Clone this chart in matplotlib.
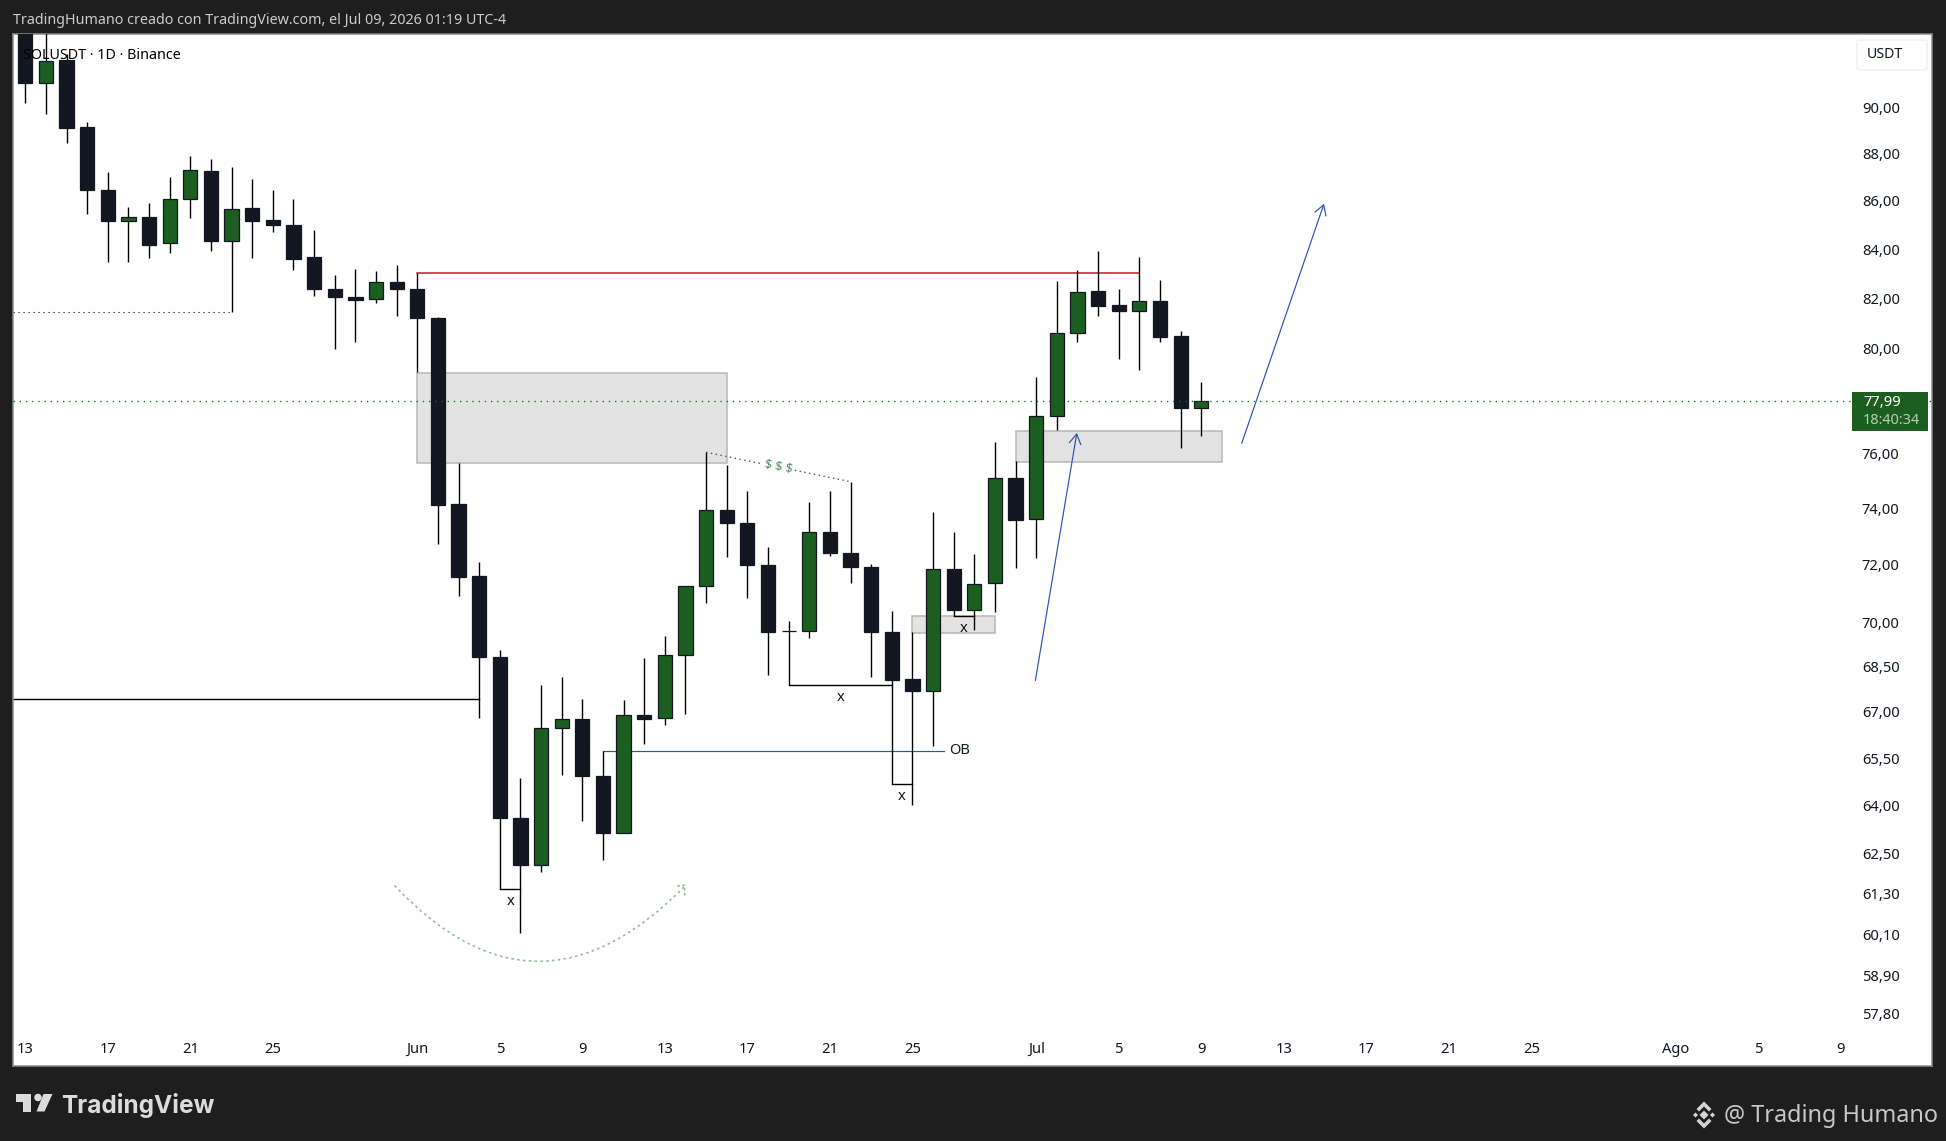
import matplotlib
matplotlib.use('Agg')
import matplotlib.pyplot as plt
from matplotlib.patches import Rectangle, Polygon, Ellipse, FancyBboxPatch, PathPatch
from matplotlib.path import Path
from matplotlib.ticker import FixedLocator, FixedFormatter, NullLocator

W, H = 1946, 1141

# Daily candles, index 0 = May 13
opens = [95.00, 91.08, 92.12, 89.17, 86.47, 85.14, 85.34, 84.23, 86.06, 87.28,
         84.32, 85.71, 85.21, 85.01, 83.68, 82.39, 82.06, 81.96, 82.67, 82.39,
         81.23, 74.17, 71.58, 68.82, 63.62, 62.16, 66.47, 66.77, 64.94, 63.15,
         66.90, 66.78, 68.88, 71.25, 73.95, 73.49, 71.99, 69.71, 69.70, 73.16,
         72.42, 71.92, 69.67, 68.09, 67.68, 71.85, 70.43, 71.34, 75.12, 73.60,
         77.40, 80.61, 82.31, 81.74, 81.51, 81.90, 80.51, 77.73]
highs = [97.00, 97.00, 92.40, 89.39, 87.24, 85.75, 85.92, 87.02, 87.92, 87.79,
         87.45, 86.94, 86.47, 86.09, 84.80, 82.95, 83.20, 83.11, 83.36, 83.03,
         81.25, 75.67, 72.07, 69.06, 64.85, 67.89, 68.13, 67.43, 65.73, 67.40,
         68.79, 69.54, 71.25, 76.06, 75.59, 74.64, 72.63, 70.05, 74.24, 74.64,
         74.97, 72.03, 70.39, 69.65, 73.88, 73.16, 72.38, 76.45, 75.74, 78.92,
         82.71, 83.16, 83.93, 82.39, 83.68, 82.75, 80.71, 78.73]
lows = [90.23, 89.75, 88.49, 85.47, 83.45, 83.45, 83.65, 83.82, 85.27, 83.94,
        81.45, 83.65, 84.69, 83.13, 82.08, 79.98, 80.27, 81.83, 81.28, 79.09,
        72.71, 70.89, 66.78, 61.44, 60.12, 61.95, 64.95, 63.51, 62.31, 63.15,
        65.94, 66.56, 66.91, 70.64, 72.25, 70.82, 68.20, 67.88, 69.45, 72.29,
        71.34, 68.14, 64.68, 64.00, 65.88, 70.21, 69.72, 70.33, 71.87, 72.22,
        76.88, 80.25, 81.30, 79.61, 79.19, 80.25, 76.23, 76.67]
closes = [91.08, 92.10, 89.14, 86.44, 85.14, 85.34, 84.18, 86.08, 87.31, 84.32,
          85.66, 85.18, 84.98, 83.61, 82.36, 82.04, 81.94, 82.66, 82.36, 81.20,
          74.14, 71.55, 68.80, 63.60, 62.16, 66.47, 66.76, 64.92, 63.14, 66.89,
          66.75, 68.88, 71.25, 73.94, 73.46, 71.97, 69.65, 69.68, 73.15, 72.39,
          71.90, 69.65, 68.03, 67.67, 71.84, 70.42, 71.32, 75.11, 73.59, 77.42,
          80.63, 82.25, 81.70, 81.50, 81.90, 80.48, 77.73, 77.99]

price_ticks = [90, 88, 86, 84, 82, 80, 76, 74, 72, 70, 68.5, 67, 65.5, 64, 62.5, 61.3, 60.1, 58.9, 57.8]
price_labels = ['90,00', '88,00', '86,00', '84,00', '82,00', '80,00', '76,00', '74,00', '72,00', '70,00',
                '68,50', '67,00', '65,50', '64,00', '62,50', '61,30', '60,10', '58,90', '57,80']
date_ticks = [0, 4, 8, 12, 19, 23, 27, 31, 35, 39, 43, 49, 53, 57, 61, 65, 69, 73, 80, 84, 88]
date_labels = ['13', '17', '21', '25', 'Jun', '5', '9', '13', '17', '21', '25',
               'Jul', '5', '9', '13', '17', '21', '25', 'Ago', '5', '9']
bold_labels = ['Jun', 'Jul', 'Ago']

last_price = 77.99
resistance = 83.03
old_low_dotted = 81.45
old_low_solid = 67.42
order_block = 65.73

# (first day, last day, top price, bottom price)
zones = [(19, 34, 79.07, 75.65), (48, 58, 76.86, 75.70), (43, 47, 70.21, 69.62)]
# (first day, last day, price)
sweeps = [(23, 24, 61.44), (37, 42, 67.88), (42, 43, 64.68), (45, 46, 70.21)]
# (day, price) of the small x marks
x_marks = [(23.5, 61.06), (39.5, 67.46), (42.5, 64.28), (45.5, 69.78)]

DARK = '#131722'
GREEN = '#1b5e20'
BLUE = '#2a52b8'
UI = 'Noto Sans'


def fx(x):
    return x / W


def fy(y):
    return 1 - y / H


def main():
    plt.rcParams['font.family'] = [UI, 'DejaVu Sans']
    fig = plt.figure(figsize=(W / 100, H / 100), dpi=100, facecolor='#1e1e1e')
    ax = fig.add_axes([fx(13), fy(1065.5), (1932 - 13) / W, (1065.5 - 34) / H], facecolor='white')
    ax.set_yscale('log')
    ax.set_xlim(-0.596, 92.42)
    ax.set_ylim(56.36, 93.31)
    for spine in ax.spines.values():
        spine.set_color('#8a8a8a')
        spine.set_linewidth(1.1)

    # Axes, labels sit inside the pane like on TradingView
    ax.yaxis.tick_right()
    ax.yaxis.set_major_locator(FixedLocator(price_ticks))
    ax.yaxis.set_major_formatter(FixedFormatter(price_labels))
    ax.yaxis.set_minor_locator(NullLocator())
    ax.xaxis.set_major_locator(FixedLocator(date_ticks))
    ax.xaxis.set_major_formatter(FixedFormatter(date_labels))
    ax.tick_params(axis='y', length=0, pad=-50.5, labelsize=10.6, labelcolor=DARK)
    ax.tick_params(axis='x', length=0, pad=-17, labelsize=10.6, labelcolor=DARK)
    for lab in ax.get_xticklabels():
        if lab.get_text() in bold_labels:
            lab.set_fontweight('bold')

    # Zones go under the candles
    for first, last, top, bottom in zones:
        ax.add_patch(Rectangle((first, bottom), last - first, top - bottom, facecolor='#e3e3e3',
                               edgecolor='#b8b8b8', linewidth=1.1, zorder=1))

    # Candles
    days = list(range(len(opens)))
    ax.vlines(days, lows, highs, color='black', linewidth=1.0, zorder=3)
    for day, o, c in zip(days, opens, closes):
        ax.bar(day, abs(c - o), bottom=min(o, c), width=0.69, color=GREEN if c > o else DARK,
               edgecolor=DARK, linewidth=0.9, zorder=4)

    # Levels
    ax.plot([-0.6, 92.4], [last_price, last_price], color='#0f6a1a', linewidth=0.95,
            linestyle=(0, (1, 3.7)), zorder=5)
    ax.plot([19, 54], [resistance, resistance], color='#c2182b', linewidth=1.1, zorder=2)
    ax.plot([-0.6, 10], [old_low_dotted, old_low_dotted], color='black', linewidth=0.8,
            linestyle=(0, (1, 3.5)), zorder=2)
    ax.plot([-0.6, 22], [old_low_solid, old_low_solid], color='black', linewidth=1.0, zorder=2)
    ax.plot([28, 44.55], [order_block, order_block], color=BLUE, linewidth=0.85, zorder=2)
    ax.text(45.3, order_block, 'OB', fontsize=10.6, color=DARK, ha='center', va='center')

    for first, last, price in sweeps:
        ax.plot([first, last], [price, price], color='black', linewidth=1.0, zorder=3)
    for day, price in x_marks:
        ax.text(day, price, 'x', fontsize=10.6, color=DARK, ha='center', va='center', zorder=6)

    # Equal highs with the $ $ $ tag
    ax.plot([33, 35.7], [highs[33], 75.63], color='#555555', linewidth=1.0, linestyle=(0, (1, 2.5)), zorder=5)
    ax.plot([37.3, 40], [75.39, highs[40]], color='#555555', linewidth=1.0, linestyle=(0, (1, 2.5)), zorder=5)
    ax.text(36.5, 75.52, '$ $ $', fontsize=9, color='#4f8a5c', rotation=-11, ha='center', va='center')

    # Rounded bottom curve
    curve = Path([(17.9, 61.54), (24.8, 57.15), (32.0, 61.54)], [Path.MOVETO, Path.CURVE3, Path.CURVE3])
    ax.add_patch(PathPatch(curve, facecolor='none', edgecolor='#8fbf95', linewidth=1.2,
                           linestyle=(0, (1.5, 2)), zorder=2))
    ax.plot([31.6, 31.95, 31.97], [61.53, 61.55, 61.2], color='#8fbf95', linewidth=1.2,
            linestyle=(0, (1.5, 1.5)), zorder=2)

    # Blue arrows
    head = dict(arrowstyle='->,head_length=0.5,head_width=0.3', color=BLUE, linewidth=0.85,
                shrinkA=0, shrinkB=0, mutation_scale=14)
    ax.annotate('', xy=(50.97, 76.78), xytext=(48.96, 68.03), arrowprops=head, zorder=6)
    ax.annotate('', xy=(62.95, 85.88), xytext=(58.96, 76.39), arrowprops=head, zorder=6)

    ax.text(0.0052, 0.9795, 'SOLUSDT · 1D · Binance', transform=ax.transAxes, fontsize=10.3,
            color='black', ha='left', va='center', zorder=7)

    # Price tag and currency button
    fig.add_artist(Rectangle((fx(1852), fy(431)), 76 / W, 39 / H, transform=fig.transFigure,
                             facecolor=GREEN, edgecolor='none', zorder=8))
    fig.text(fx(1863), fy(402), '77,99', fontsize=10.6, fontweight='bold', color='white',
             ha='left', va='center', zorder=9)
    fig.text(fx(1863), fy(420), '18:40:34', fontsize=10.4, color='#b9cdb9', ha='left', va='center', zorder=9)
    fig.add_artist(FancyBboxPatch((fx(1857), fy(70)), 70 / W, 30 / H, transform=fig.transFigure,
                                  boxstyle='round,pad=0,rounding_size=0.002', facecolor='white',
                                  edgecolor='#f0f3fa', linewidth=1.3, zorder=8))
    fig.text(fx(1867), fy(55), 'USDT', fontsize=10.2, color=DARK, ha='left', va='center', zorder=9)

    # Header and footer
    fig.text(fx(13), fy(21), 'TradingHumano creado con TradingView.com, el Jul 09, 2026 01:19 UTC-4',
             fontsize=10.3, color='#cccccc', ha='left', va='center')

    logo = '#dcdcdc'
    fig.add_artist(Polygon([(fx(15.5), fy(1094)), (fx(31), fy(1094)), (fx(31), fy(1111.5)), (fx(22.5), fy(1111.5)),
                            (fx(22.5), fy(1102)), (fx(15.5), fy(1102))], transform=fig.transFigure,
                           facecolor=logo, edgecolor='none'))
    fig.add_artist(Polygon([(fx(43.5), fy(1094)), (fx(52.5), fy(1094)), (fx(44.5), fy(1111.5)), (fx(36.5), fy(1111.5))],
                           transform=fig.transFigure, facecolor=logo, edgecolor='none'))
    fig.add_artist(Ellipse((fx(38), fy(1097.5)), 7.5 / W, 7.5 / H, transform=fig.transFigure,
                           facecolor=logo, edgecolor='none'))
    fig.text(fx(61), fy(1105), 'TradingView', fontsize=17.6, fontweight='bold', color=logo, ha='left',
             va='center', family='Inter')

    cx, cy = 1704, 1115
    parts = [[(0, -4.5), (4.5, 0), (0, 4.5), (-4.5, 0)],
             [(-11, 0), (-8.5, -2.5), (-6, 0), (-8.5, 2.5)],
             [(11, 0), (8.5, -2.5), (6, 0), (8.5, 2.5)],
             [(0, -13.5), (7.5, -6), (5, -3.5), (0, -8.5), (-5, -3.5), (-7.5, -6)],
             [(0, 13.5), (7.5, 6), (5, 3.5), (0, 8.5), (-5, 3.5), (-7.5, 6)]]
    for part in parts:
        fig.add_artist(Polygon([(fx(cx + a), fy(cy + b)) for a, b in part], transform=fig.transFigure,
                               facecolor='#d4d4d4', edgecolor='none'))
    fig.text(fx(1724), fy(1116.5), '@ Trading Humano', fontsize=16.9, color='#c8c8c8', ha='left', va='center')

    fig.savefig('out.png', dpi=100, facecolor=fig.get_facecolor())


if __name__ == '__main__':
    main()
